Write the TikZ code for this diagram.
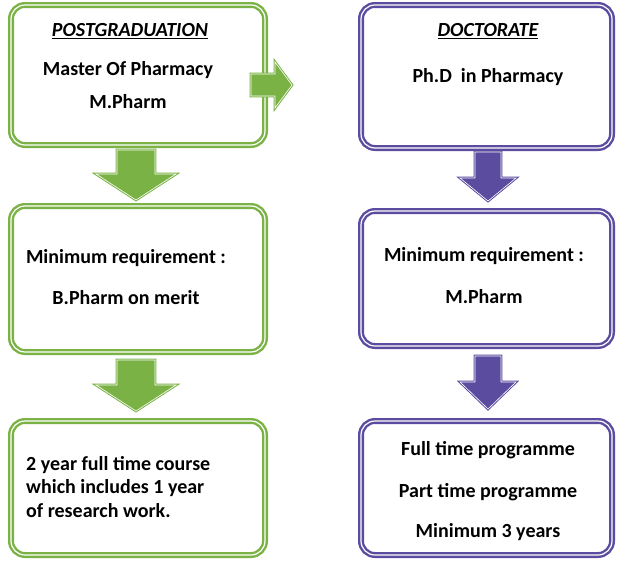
\documentclass[tikz,border=0pt]{standalone}
\usepackage{fontspec}
\setmainfont{Carlito}
\definecolor{gr}{RGB}{122,178,70}
\definecolor{pu}{RGB}{92,76,160}
\tikzset{
 gbox/.style={draw=gr,line width=2.4pt,double=white,double distance=1.2pt,rounded corners=14pt},
 pbox/.style={draw=pu,line width=2.4pt,double=white,double distance=1.2pt,rounded corners=14pt},
 txt/.style={font=\bfseries\fontsize{20}{24}\selectfont,inner sep=0pt},
 barr/.style={fill=#1,draw=#1,line width=1pt,double=white,double distance=0.6pt,line join=miter}
}
\newcommand{\darr}[7]{% color, cx, y0, sw, hw, yh, y1
 \draw[barr=#1] (#2-#4,#3) -- (#2+#4,#3) -- (#2+#4,#6) -- (#2+#5,#6) -- (#2,#7) -- (#2-#5,#6) -- (#2-#4,#6) -- cycle;}
\begin{document}
\begin{tikzpicture}[x=1pt,y=-1pt]
\useasboundingbox (0,0) rectangle (619,562);
\draw[gbox] (11,5) rectangle (265,145);
\draw[gbox] (11,206) rectangle (265,352);
\draw[gbox] (11,421) rectangle (265,555);
\draw[pbox] (361,5) rectangle (612,148);
\draw[pbox] (361,211) rectangle (612,346);
\draw[pbox] (361,421) rectangle (612,555);
\node[txt] (t1) at (130,31) {\itshape\underline{POSTGRADUATION}};
\node[txt] (t2) at (128,70) {Master Of Pharmacy};
\node[txt] (t3) at (128,102) {M.Pharm};
\node[txt] (t4) at (488,31) {\itshape\underline{DOCTORATE}};
\node[txt] (t5) at (488,77) {Ph.D\ \ in Pharmacy};
\node[txt] (t6) at (126,258) {Minimum requirement :};
\node[txt] (t7) at (126,298) {B.Pharm on merit};
\node[txt] (t8) at (484,256) {Minimum requirement :};
\node[txt] (t9) at (484,297) {M.Pharm};
\node[txt,align=left,anchor=west,font=\bfseries\fontsize{20}{23.5}\selectfont] (t10) at (26,487) {2 year full time course\\which includes 1 year\\of research work.};
\node[txt] (t11) at (488,450) {Full time programme};
\node[txt] (t12) at (488,492) {Part time programme};
\node[txt] (t13) at (488,532) {Minimum 3 years};
\draw[barr=gr] (251,74) -- (275,74) -- (275,62) -- (292,85) -- (275,108) -- (275,96) -- (251,96) -- cycle;
\darr{gr}{136}{150}{19}{40}{174}{200}
\darr{gr}{136}{360}{19}{40}{385}{411}
\darr{pu}{488}{152}{13}{28}{178}{201}
\darr{pu}{488}{356}{13}{28}{382}{409}
\end{tikzpicture}
\end{document}
